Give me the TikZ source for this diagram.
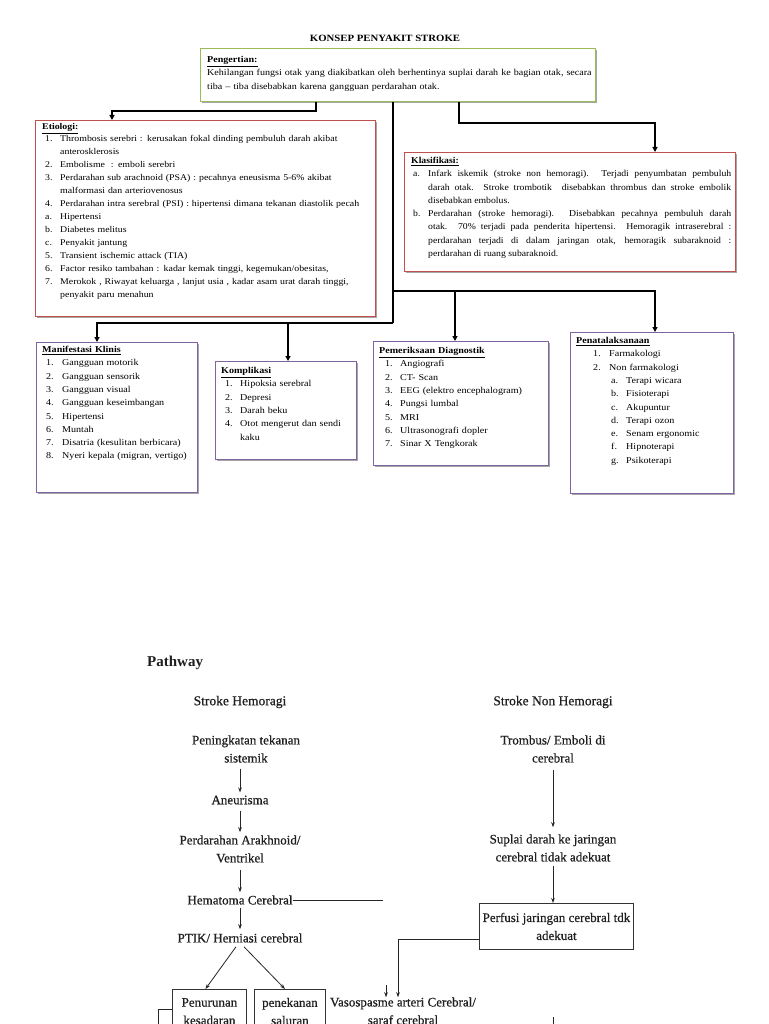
\documentclass[tikz,border=0pt]{standalone}
\usepackage{fontspec}
\setmainfont{Liberation Serif}
\newfontfamily\boxfont[FakeStretch=1.12]{Liberation Serif}
\newfontfamily\klasfont[FakeStretch=1.08]{Liberation Serif}
\newfontfamily\pfont[FakeBold=0.6]{Liberation Serif}
\usetikzlibrary{arrows.meta,shadows,calc}
\definecolor{gbord}{RGB}{155,187,89}
\definecolor{rbord}{RGB}{192,80,77}
\definecolor{pbord}{RGB}{128,100,162}
\newlength{\lblx}\newlength{\txtx}
\newcommand{\itm}[2]{\par\hangindent=\txtx\hangafter=1\noindent\hspace*{\lblx}\makebox[\dimexpr\txtx-\lblx\relax][l]{#1}#2}
\newcommand{\setind}[2]{\setlength{\lblx}{#1pt}\setlength{\txtx}{#2pt}}
\begin{document}
\begin{tikzpicture}[x=1pt,y=-1pt,
  cbox/.style={draw=#1, line width=1.4pt, fill=white, anchor=north west, inner sep=0pt,
     drop shadow={shadow xshift=1.2pt, shadow yshift=-1.2pt, opacity=0.35, fill=black}},
  txt/.style={anchor=base west, inner sep=0pt, align=left, font=\boxfont\fontsize{9}{13.3}\selectfont},
  conn/.style={line width=1.8pt, -{Triangle[length=5pt,width=5pt]}},
  bline/.style={line width=1.8pt},
  ptxt/.style={font=\pfont\fontsize{13}{18}\selectfont, align=center, inner sep=0pt, text=black!88},
  phead/.style={font=\pfont\fontsize{13.5}{18}\selectfont, align=center, inner sep=0pt, text=black!88},
  parr/.style={line width=0.8pt, draw=black!85, -{Stealth[length=5pt,width=3.6pt]}},
  pline/.style={line width=0.8pt, draw=black!85},
  pbox/.style={draw=black!80, line width=0.9pt, anchor=north west, inner sep=0pt, ptxt}]
\useasboundingbox (0,0) rectangle (768,1024);
\fill[white] (0,0) rectangle (768,1024);
\clip (0,0) rectangle (768,1024);

% ---------- title ----------
\node[font=\boxfont\bfseries\fontsize{9.6}{11}\selectfont, inner sep=0pt] (title) at (385,38) {KONSEP PENYAKIT STROKE};

% ---------- boxes ----------
\node[cbox=gbord, minimum width=395pt, minimum height=53pt] (peng) at (200,48) {};
\node[cbox=rbord, minimum width=340pt, minimum height=196pt] (etio) at (35,120) {};
\node[cbox=rbord, minimum width=331pt, minimum height=119pt] (klas) at (404,152) {};
\node[cbox=pbord, minimum width=161pt, minimum height=150pt] (mani) at (36,342) {};
\node[cbox=pbord, minimum width=141pt, minimum height=98pt] (komp) at (215,361) {};
\node[cbox=pbord, minimum width=175pt, minimum height=124pt] (pemr) at (373,341) {};
\node[cbox=pbord, minimum width=163pt, minimum height=161pt] (pena) at (570,332) {};

% ---------- box texts ----------
\node[txt, text width=385pt] (pengtx) at (207,62.5) {\underline{\textbf{Pengertian:}}\\
Kehilangan fungsi otak yang diakibatkan oleh berhentinya suplai darah ke bagian otak, secara\\
tiba – tiba disebabkan karena gangguan perdarahan otak.};

\node[txt, text width=332pt, font=\boxfont\fontsize{8.8}{13}\selectfont] (etiotx) at (42,130) {\setind{3}{18}%
\underline{\textbf{Etiologi:}}\vspace{-1.3pt}%
\itm{1.}{Thrombosis serebri : kerusakan fokal dinding pembuluh darah akibat\newline anterosklerosis}%
\itm{2.}{Embolisme\ \ : emboli serebri}%
\itm{3.}{Perdarahan sub arachnoid (PSA) : pecahnya eneusisma 5-6\% akibat\newline malformasi dan arteriovenosus}%
\itm{4.}{Perdarahan intra serebral (PSI) : hipertensi dimana tekanan diastolik pecah}%
\itm{a.}{Hipertensi}%
\itm{b.}{Diabetes melitus}%
\itm{c.}{Penyakit jantung}%
\itm{5.}{Transient ischemic attack (TIA)}%
\itm{6.}{Factor resiko tambahan : kadar kemak tinggi, kegemukan/obesitas,}%
\itm{7.}{Merokok , Riwayat keluarga , lanjut usia , kadar asam urat darah tinggi,\newline penyakit paru menahun}\par};

\node[txt, text width=320pt, align=justify, font=\klasfont\fontsize{9}{13.3}\selectfont] (klastx) at (411,163.5) {\setind{2}{17}%
\underline{\textbf{Klasifikasi:}}%
\itm{a.}{Infark iskemik (stroke non hemoragi). Terjadi penyumbatan pembuluh\linebreak darah otak.\ \ Stroke trombotik\ \ disebabkan thrombus dan stroke embolik\linebreak disebabkan embolus.}%
\itm{b.}{Perdarahan (stroke hemoragi). Disebabkan pecahnya pembuluh darah\linebreak otak. 70\% terjadi pada penderita hipertensi. Hemoragik intraserebral :\linebreak perdarahan terjadi di dalam jaringan otak, hemoragik subaraknoid :\linebreak perdarahan di ruang subaraknoid.}\par};

\node[txt, text width=152pt] (manitx) at (42,352.5) {\setind{4}{20}%
\underline{\textbf{Manifestasi Klinis}}%
\itm{1.}{Gangguan motorik}%
\itm{2.}{Gangguan sensorik}%
\itm{3.}{Gangguan visual}%
\itm{4.}{Gangguan keseimbangan}%
\itm{5.}{Hipertensi}%
\itm{6.}{Muntah}%
\itm{7.}{Disatria (kesulitan berbicara)}%
\itm{8.}{Nyeri kepala (migran, vertigo)}\par};

\node[txt, text width=132pt] (kompt) at (221,373.5) {\setind{4}{19}%
\underline{\textbf{Komplikasi}}%
\itm{1.}{Hipoksia serebral}%
\itm{2.}{Depresi}%
\itm{3.}{Darah beku}%
\itm{4.}{Otot mengerut dan sendi\newline kaku}\par};

\node[txt, text width=165pt] (pemrtx) at (379,353.5) {\setind{6}{21}%
\underline{\textbf{Pemeriksaan Diagnostik}}%
\itm{1.}{Angiografi}%
\itm{2.}{CT- Scan}%
\itm{3.}{EEG (elektro encephalogram)}%
\itm{4.}{Pungsi lumbal}%
\itm{5.}{MRI}%
\itm{6.}{Ultrasonografi dopler}%
\itm{7.}{Sinar X Tengkorak}\par};

\node[txt, text width=155pt] (penatx) at (576,343.5) {\setind{17}{33}%
\underline{\textbf{Penatalaksanaan}}%
\itm{1.}{Farmakologi}%
\itm{2.}{Non farmakologi}%
\setind{35}{50}%
\itm{a.}{Terapi wicara}%
\itm{b.}{Fisioterapi}%
\itm{c.}{Akupuntur}%
\itm{d.}{Terapi ozon}%
\itm{e.}{Senam ergonomic}%
\itm{f.}{Hipnoterapi}%
\itm{g.}{Psikoterapi}\par};

% ---------- top connectors ----------
\coordinate (j1) at (393,291);
\coordinate (j2) at (393,323);
\draw[conn] ($(peng.south west)+(116,0)$) -- ++(0,9) -| ($(etio.north west)+(77,0)$);
\draw[conn] ($(peng.south west)+(259,0)$) -- ++(0,21) -| ($(klas.north west)+(251,0)$);
\draw[bline] ($(peng.south west)+(193,0)$) -- (j2);
\draw[conn] (j1) -| ($(pemr.north west)+(82,0)$);
\draw[conn] (j1) -| ($(pena.north west)+(85,0)$);
\draw[conn] (j2) -| ($(mani.north west)+(61,0)$);
\draw[conn] (j2) -| ($(komp.north west)+(73,0)$);

% ---------- pathway ----------
\node[font=\bfseries\fontsize{15}{18}\selectfont, inner sep=0pt, anchor=base west, text=black!88] (pathw) at (147,666) {Pathway};
\node[phead] (sh) at (240,702) {Stroke Hemoragi};
\node[phead] (snh) at (553,702) {Stroke Non Hemoragi};
\node[ptxt] (p1) at (246,749) {Peningkatan tekanan\\sistemik};
\node[ptxt] (p2) at (240,800) {Aneurisma};
\node[ptxt] (p3) at (240,849) {Perdarahan Arakhnoid/\\Ventrikel};
\node[ptxt] (p4) at (240,900) {Hematoma Cerebral};
\node[ptxt] (p5) at (240,938) {PTIK/ Herniasi cerebral};
\node[pbox, minimum width=74pt, minimum height=44pt] (b1) at (172,989) {Penurunan\\kesadaran};
\node[pbox, minimum width=71pt, minimum height=44pt] (b2) at (254,989) {penekanan\\saluran};
\node[ptxt] (vaso) at (403,1011) {Vasospasme arteri Cerebral/\\saraf cerebral};
\node[ptxt] (n1) at (553,749) {Trombus/ Emboli di\\cerebral};
\node[ptxt] (n2) at (553,848) {Suplai darah ke jaringan\\cerebral tidak adekuat};
\node[pbox, minimum width=154pt, minimum height=46pt] (n3) at (479,903) {Perfusi jaringan cerebral tdk\\adekuat};

\draw[parr, shorten <=6pt, shorten >=3pt] (p1.south -| p2.north) -- (p2.north);
\draw[parr, shorten <=6pt, shorten >=3pt] (p2.south) -- (p3.north);
\draw[parr, shorten <=7pt, shorten >=3pt] (p3.south) -- (p4.north);
\draw[parr, shorten <=3pt, shorten >=4pt] (p4.south) -- (p5.north);
\draw[parr] ($(p5.south)+(-4,4)$) -- ($(b1.north)+(-4,0)$);
\draw[parr] ($(p5.south)+(4,4)$) -- ($(b2.north)+(-5,0)$);
\draw[parr, shorten <=7pt, shorten >=7pt] (n1.south) -- (n2.north);
\draw[parr, shorten <=4pt] (n2.south) -- (n2.south |- n3.north);

\coordinate (hx) at (383,0);
\draw[pline] (p4.east) -- (p4.east -| hx);
\coordinate (vx) at (398,0);
\draw[parr] ($(n3.south west)+(0,-11)$) -| (vaso.north -| vx);
\coordinate (sa) at (386,985);
\draw[parr] (sa) -- (sa |- vaso.north);
\coordinate (lb) at (158,1040);
\draw[pline] ($(b1.north west)+(0,20)$) -| (lb);
\coordinate (bt1) at (553,1017);
\coordinate (bt2) at (553,1040);
\draw[pline] (bt1) -- (bt2);
\end{tikzpicture}
\end{document}
